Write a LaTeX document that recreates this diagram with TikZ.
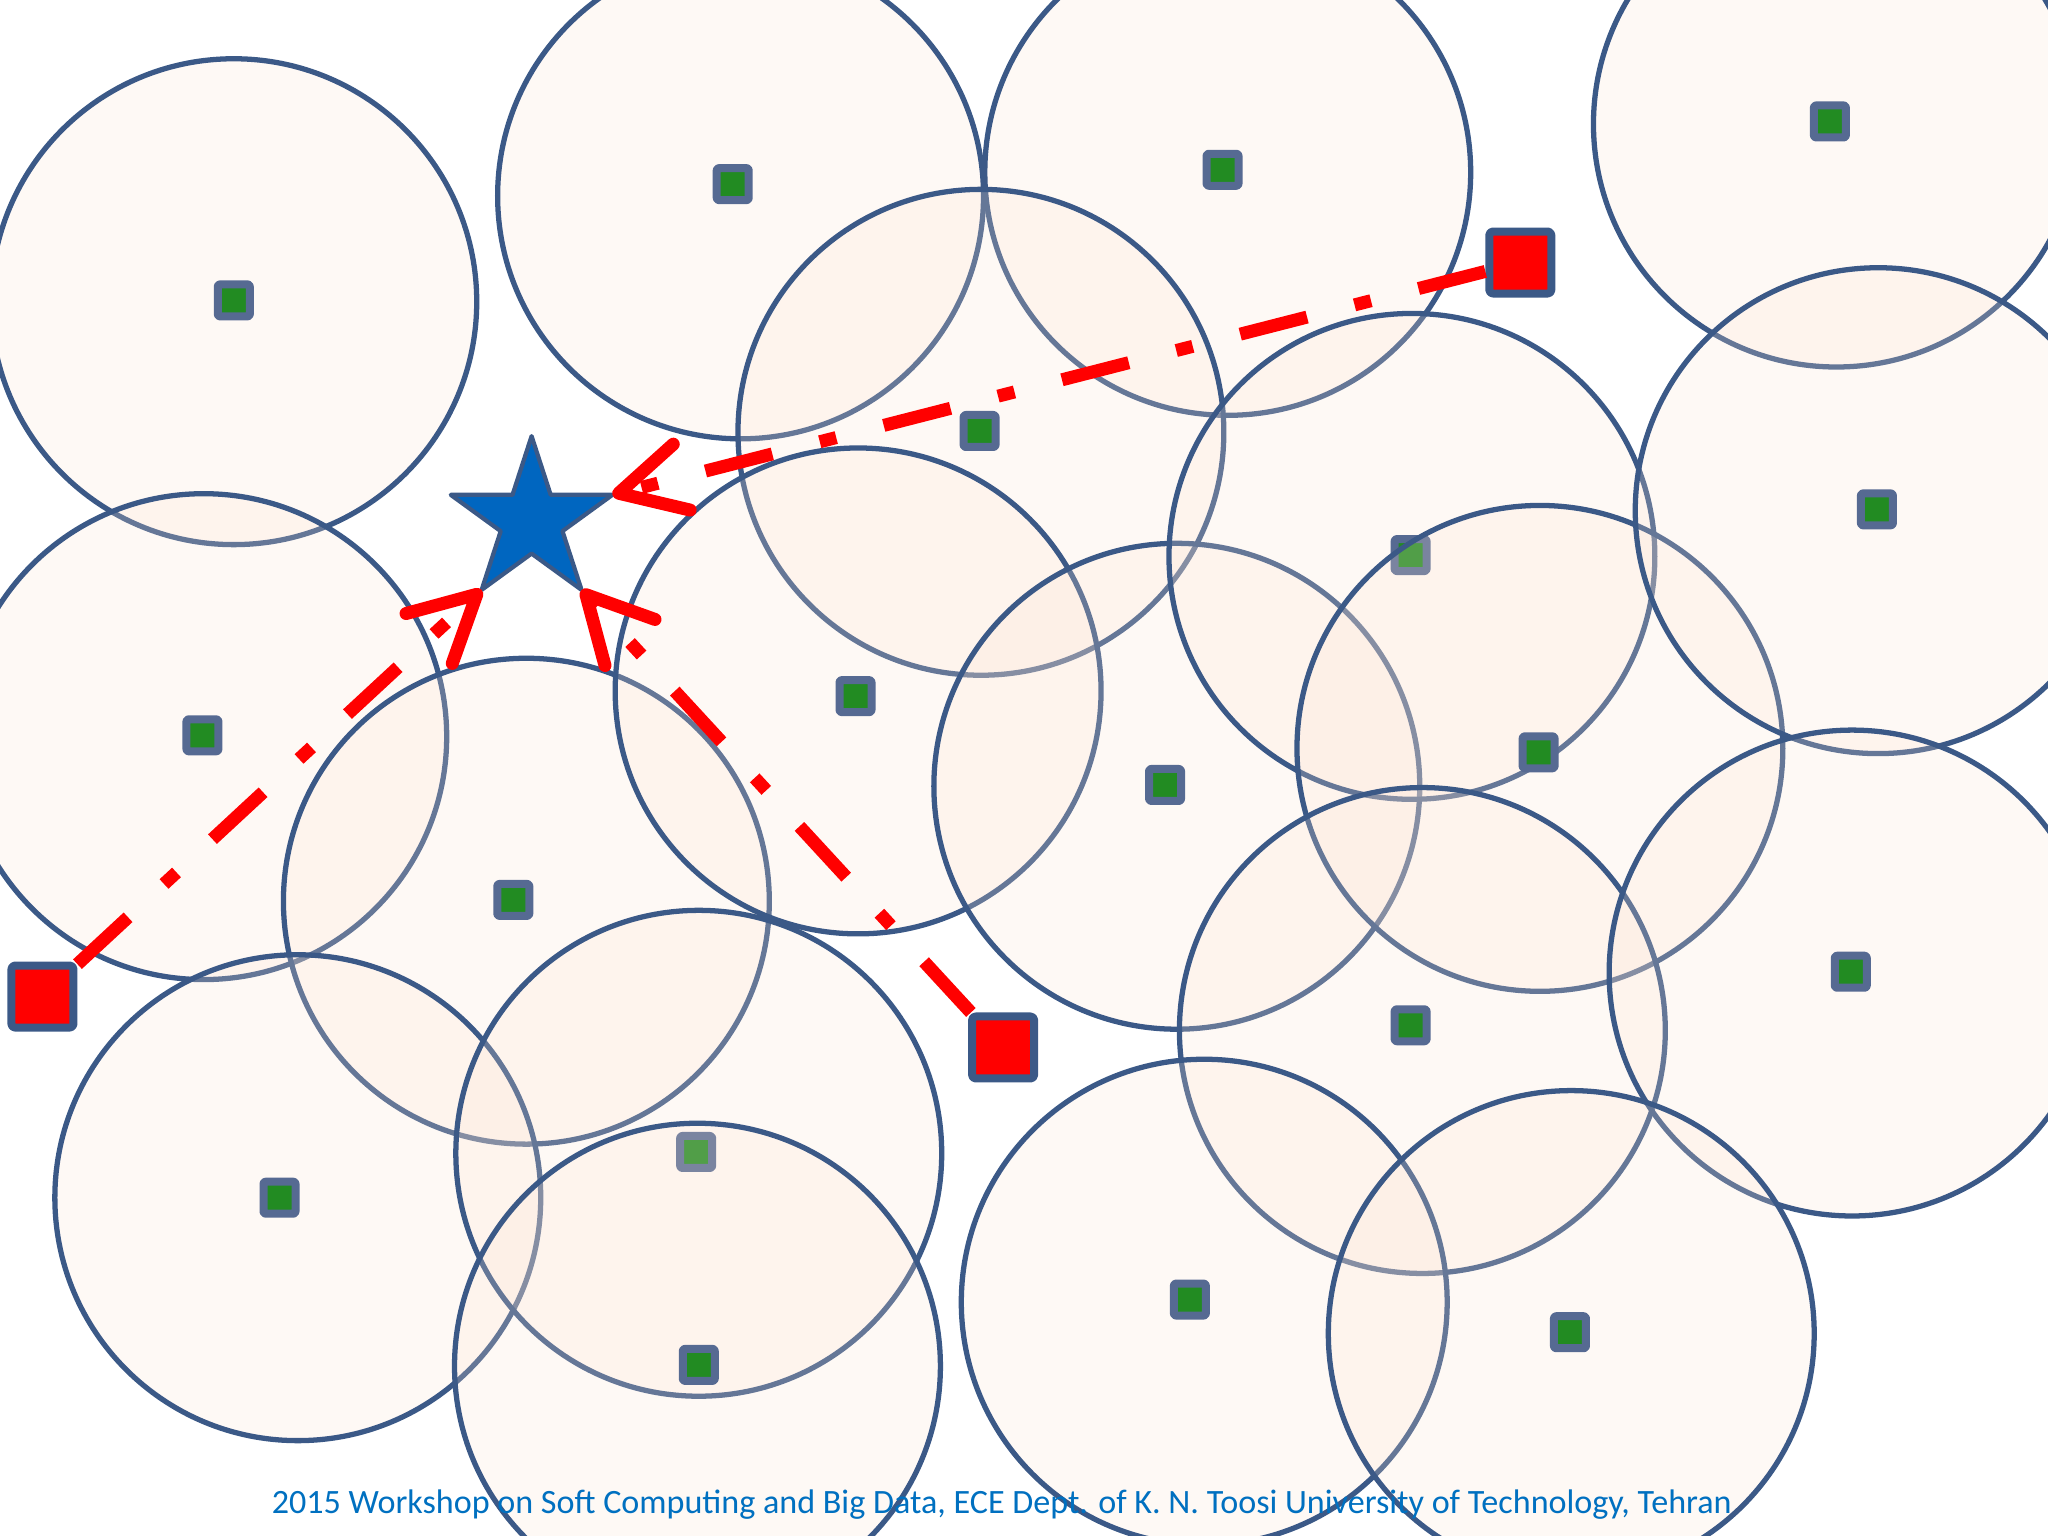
\documentclass[tikz,border=0pt]{standalone}
\usepackage{fontspec}
\newfontfamily\footfont{Carlito}
\usetikzlibrary{shapes.geometric,arrows.meta}
\definecolor{rim}{RGB}{59,89,135}
\definecolor{peach}{RGB}{252,226,210}
\definecolor{chip}{RGB}{86,106,146}
\definecolor{leaf}{RGB}{34,139,34}
\definecolor{starblue}{RGB}{0,102,192}
\definecolor{footblue}{RGB}{0,112,192}
\tikzset{
	coverage/.style={draw=rim,line width=1.5pt,fill=peach,fill opacity=.22},
	sensor/.style={rectangle,rounded corners=.6pt,draw=chip,fill=leaf,line width=.08cm,minimum size=.32cm,inner sep=0pt},
	beacon/.style={rectangle,rounded corners=1pt,draw=rim,fill=red,line width=.08cm,minimum size=.62cm,inner sep=0pt},
	target/.style={star,star points=5,star point ratio=2.618,minimum size=1.70cm,inner sep=0pt,outer sep=0pt,draw=rim,fill=starblue,line width=1.2pt},
	hop/.style={draw=red,line width=.13cm,line cap=butt,dash pattern=on .69cm off .49cm on .17cm off .49cm,-{Straight Barb[length=6.5mm,width=6.8mm,round]}}
}
\begin{document}
\begin{tikzpicture}[line join=round,x=.0130612cm,y=.0130612cm]
		\useasboundingbox (0,0) rectangle (1568,1176);
		\clip (0,0) rectangle (1568,1176);
		% sensors with their ranges
		\foreach \cx/\cy/\sx/\sy [count=\i] in {179/945/179/946, 567/1026/561/1035, 940/1044/936/1046, 1406/1081/1401/1083,
			751/845/750/846, 156/612/155/613, 403/486/393/487, 657/647/655/643, 901/574/892/575, 1081/750/1080/751,
			1179/603/1178/600, 1438/785/1437/786, 1089/387/1080/391, 1418/431/1417/432, 228/259/214/259,
			535/293/533/294, 534/130/535/131, 922/179/911/181, 1203/155/1202/156}{
			\draw[coverage] (\cx,\cy) circle (186);
			\node[sensor] (s\i) at (\sx,\sy) {};
		}
		\node[beacon] (b1) at (32.5,413) {};
		\node[beacon] (b2) at (1164,975) {};
		\node[beacon] (b3) at (768,374) {};
		\node[target] (t) at (407,777) {};
		\draw[hop] (b1) -- (t.outer point 3);
		\draw[hop] (b2) -- (t.outer point 5);
		\draw[hop] (b3) -- (t.outer point 4);
		\node[text=footblue,font=\footfont\fontsize{9.7}{11}\selectfont,anchor=base,inner sep=0pt] (foot) at (767,17.5) {2015 Workshop on Soft Computing and Big Data, ECE Dept. of K. N. Toosi University of Technology, Tehran};
	\end{tikzpicture}
\end{document}
